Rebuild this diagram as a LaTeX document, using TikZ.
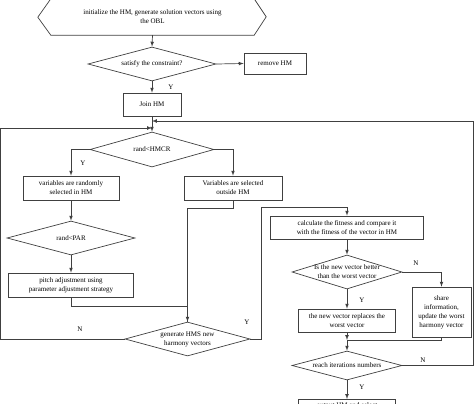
\documentclass[tikz,border=0pt]{standalone}
\usepackage{fontspec}
\setmainfont{Liberation Serif}
\usetikzlibrary{shapes.geometric}

\tikzset{
  every node/.style={font=\fontsize{7}{9}\selectfont},
  box/.style={draw=black!75, line width=0.7pt, align=center, inner sep=1pt},
  decision/.style={draw=black!75, line width=0.7pt, diamond, inner sep=0pt},
  link/.style={draw=black!75, line width=0.7pt},
}

\begin{document}
\begin{tikzpicture}[x=1pt,y=-1pt,>=latex]
            \useasboundingbox (0,0) rectangle (474,404);
            \clip (0,0) rectangle (474,404);

            % start
            \node[minimum width=203pt, minimum height=36pt, align=center] (init) at (152.5,17)
                {initialize the HM, generate solution vectors using\\the OBL};
            \draw[link] (init.north west) -- (init.north east) -- ++(12,18) -- (init.south east)
                -- (init.south west) -- ++(-13,-18) -- cycle;

            \node[decision, minimum width=128pt, minimum height=34pt,
                label=center:{satisfy the constraint?}] (cons) at (152,64) {};
            \node[box, minimum width=62pt, minimum height=21pt] (remove) at (275,63.5) {remove HM};
            \node[box, minimum width=58pt, minimum height=23pt] (join) at (152,104.5) {Join HM};
            \node[decision, minimum width=124pt, minimum height=35pt,
                label=center:{rand<HMCR}] (hmcr) at (152,149.5) {};

            % left branch
            \node[box, minimum width=96pt, minimum height=24pt] (rnd) at (71,188)
                {variables are randomly\\selected in HM};
            \node[decision, minimum width=128pt, minimum height=34pt,
                label=center:{rand<PAR}] (par) at (71,238) {};
            \node[box, minimum width=125pt, minimum height=24pt] (pitch) at (71,285)
                {pitch adjustment using\\parameter adjustment strategy};

            % right branch
            \node[box, minimum width=98pt, minimum height=24pt] (out) at (233,188)
                {Variables are selected\\outside HM};
            \node[decision, minimum width=125pt, minimum height=34pt,
                label={[align=center]center:{generate HMS new\\harmony vectors}}] (gen) at (187.5,339) {};

            % evaluation
            \node[box, minimum width=153pt, minimum height=23pt] (calc) at (347,227.5)
                {calculate the fitness and compare it\\with the fitness of the vector in HM};
            \node[decision, minimum width=110pt, minimum height=34pt,
                label={[align=center]center:{Is the new vector better\\than the worst vector}}] (better) at (347,272) {};
            \node[box, minimum width=97pt, minimum height=23pt] (repl) at (347,320.5)
                {the new vector replaces the\\worst vector};
            \node[box, minimum width=59pt, minimum height=50pt] (share) at (441.5,312)
                {share\\information,\\update the worst\\harmony vector};
            \node[decision, minimum width=110pt, minimum height=29pt,
                label=center:{reach iterations numbers}] (reach) at (347,365.5) {};
            \node[box, minimum width=97pt, anchor=north, inner ysep=3pt] (output) at (347,399)
                {output HM and select};

            \coordinate (inl) at (152,128);
            \coordinate (inr) at (152,121);
            \coordinate (merge) at (347,340);

            % connectors
            \draw[link,->] (init.south) -- (cons.north);
            \draw[link,->] (cons.east) -- (remove.west);
            \draw[link,->] (cons.south) -- (join.north);
            \draw[link,->] (join.south) -- (hmcr.north);
            \draw[link,->] (hmcr.west) -| (rnd.north);
            \draw[link,->] (hmcr.east) -| (out.north);
            \draw[link,->] (rnd.south) -- (par.north);
            \draw[link,->] (par.south) -- (pitch.north);
            \draw[link] (pitch.south) -- ++(0,9) -| (gen.north);
            \draw[link,->] (out.south) -- ++(0,8) -| (gen.north);
            \draw[link,->] (gen.west) -- ++(-124,0) |- (inl);
            \draw[link,->] (gen.east) -- ++(11,0) |- ++(0,-132) -| (calc.north);
            \draw[link,->] (calc.south) -- (better.north);
            \draw[link,->] (better.east) -| (share.north);
            \draw[link,->] (better.south) -- (repl.north);
            \draw[link,->] (repl.south) -- (merge);
            \draw[link] (share.south) |- (merge);
            \draw[link,->] (merge) -- (reach.north);
            \draw[link,->] (reach.east) -- ++(71,0) |- (inr);
            \draw[link,->] (reach.south) -- (output.north);

            % branch labels
            \node (y1) at (171,87) {Y};
            \node (y2) at (83,163) {Y};
            \node (n1) at (80,329) {N};
            \node (y3) at (247,322) {Y};
            \node (n2) at (416,263) {N};
            \node (y4) at (362,300) {Y};
            \node (n3) at (423,360) {N};
            \node (y5) at (362,387) {Y};
        \end{tikzpicture}
\end{document}
